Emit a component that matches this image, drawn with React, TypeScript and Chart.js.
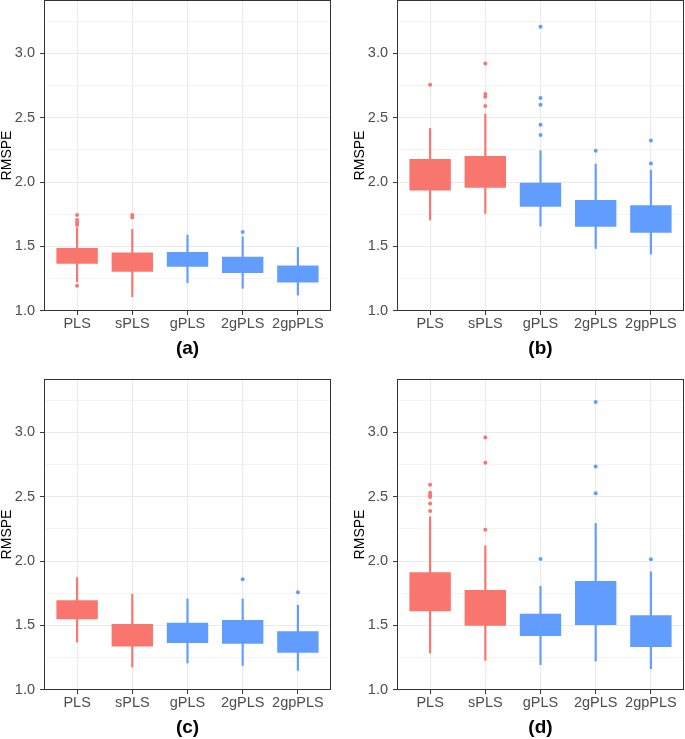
import React, { useEffect, useRef } from 'react';
import { Chart, registerables } from 'chart.js';

Chart.register(...registerables);

const categories = ['PLS', 'sPLS', 'gPLS', '2gPLS', '2gpPLS'];
const boxColors = ['#F8766D', '#F8766D', '#619CFF', '#619CFF', '#619CFF'];
const yTicks = [1.0, 1.25, 1.5, 1.75, 2.0, 2.25, 2.5, 2.75, 3.0, 3.25];

// (a)
const aQ1 = [1.365, 1.303, 1.342, 1.293, 1.22];
const aQ3 = [1.487, 1.453, 1.456, 1.42, 1.352];
const aLow = [1.225, 1.109, 1.218, 1.174, 1.122];
const aHigh = [1.645, 1.632, 1.588, 1.575, 1.492];
const aOutliers = [[1.744, 1.705, 1.684, 1.666, 1.194], [1.744, 1.725], [], [1.611], []];

// (b)
const bQ1 = [1.935, 1.956, 1.808, 1.653, 1.606];
const bQ3 = [2.179, 2.202, 1.995, 1.86, 1.819];
const bLow = [1.705, 1.756, 1.658, 1.484, 1.44];
const bHigh = [2.417, 2.528, 2.244, 2.14, 2.093];
const bOutliers = [[2.756], [2.922, 2.684, 2.663, 2.591], [3.207, 2.653, 2.601, 2.446, 2.365], [2.244], [2.324, 2.145]];

// (c)
const cQ1 = [1.547, 1.337, 1.363, 1.358, 1.288];
const cQ3 = [1.695, 1.511, 1.521, 1.542, 1.454];
const cLow = [1.371, 1.176, 1.208, 1.189, 1.15];
const cHigh = [1.872, 1.742, 1.706, 1.706, 1.656];
const cOutliers = [[], [], [], [1.859], [1.757]];

// (d)
const dQ1 = [1.61, 1.498, 1.418, 1.503, 1.332];
const dQ3 = [1.913, 1.776, 1.591, 1.846, 1.578];
const dLow = [1.285, 1.228, 1.195, 1.223, 1.163];
const dHigh = [2.344, 2.118, 1.804, 2.292, 1.916];
const dOutliers = [[2.593, 2.53, 2.512, 2.497, 2.447, 2.39], [2.961, 2.764, 2.243], [2.017], [3.236, 2.735, 2.528], [2.014]];

const FONT = "'Liberation Sans', Arial, sans-serif";

const isMajor = (v: number) => Math.abs(v * 2 - Math.round(v * 2)) < 1e-6;

// ggplot-style panel border around the plot area
const panelBorder = {
  id: 'panelBorder',
  afterDatasetsDraw(chart: any) {
    const { ctx, chartArea } = chart;
    const { left, top, right, bottom } = chartArea;
    ctx.save();
    ctx.strokeStyle = '#333333';
    ctx.lineWidth = 1;
    ctx.strokeRect(left + 0.5, top + 0.5, right - left - 1, bottom - top - 1);
    ctx.restore();
  },
};

function BoxPanel({ label, q1, q3, low, high, outliers, left, top }: any) {
  const chartRef = useRef<HTMLCanvasElement>(null);

  useEffect(() => {
    const points = outliers.flatMap((vals: number[], i: number) => vals.map((v) => ({ x: i + 1, y: v })));
    const pointColors = outliers.flatMap((vals: number[], i: number) => vals.map(() => boxColors[i]));

    const chart = new Chart(chartRef.current as HTMLCanvasElement, {
      type: 'bar',
      data: {
        datasets: [
          {
            type: 'scatter',
            data: points,
            pointRadius: 2,
            pointBackgroundColor: pointColors,
            pointBorderWidth: 0,
            order: 0,
          } as any,
          {
            data: q1.map((v: number, i: number) => ({ x: i + 1, y: [v, q3[i]] })),
            backgroundColor: boxColors,
            borderWidth: 0,
            barPercentage: 0.75,
            categoryPercentage: 1,
            grouped: false,
            order: 1,
          },
          {
            data: low.map((v: number, i: number) => ({ x: i + 1, y: [v, high[i]] })),
            backgroundColor: boxColors,
            borderWidth: 0,
            barThickness: 1.5,
            grouped: false,
            order: 2,
          },
        ],
      },
      options: {
        animation: false,
        responsive: true,
        maintainAspectRatio: false,
        layout: { autoPadding: false, padding: { top: 0, right: 1, bottom: 0, left: 0 } },
        plugins: {
          legend: { display: false },
          tooltip: { enabled: false },
        },
        scales: {
          x: {
            type: 'linear',
            min: 0.4,
            max: 5.6,
            offset: false,
            afterBuildTicks: (s: any) => {
              s.ticks = categories.map((_, i) => ({ value: i + 1 }));
            },
            afterFit: (s: any) => {
              s.height = 49;
              s.paddingLeft = 0;
              s.paddingRight = 0;
            },
            grid: {
              offset: false,
              color: '#EBEBEB',
              lineWidth: 1.1,
              tickLength: 4,
              tickColor: '#333333',
              tickWidth: 1,
            },
            border: { display: false },
            ticks: {
              autoSkip: false,
              maxRotation: 0,
              padding: 0,
              color: '#4D4D4D',
              font: { family: FONT, size: 14.5 },
              callback: (v: any) => categories[Math.round(v) - 1],
            },
            title: {
              display: true,
              text: label,
              color: '#000000',
              font: { family: FONT, size: 19, weight: 'bold' },
              padding: { top: 0, bottom: 0 },
            },
          },
          y: {
            type: 'linear',
            min: 0.998,
            max: 3.415,
            beginAtZero: false,
            afterBuildTicks: (s: any) => {
              s.ticks = yTicks.map((v) => ({ value: v }));
            },
            afterFit: (s: any) => {
              s.width = 44;
              s.paddingTop = 0;
              s.paddingBottom = 0;
            },
            grid: {
              color: '#EBEBEB',
              lineWidth: (ctx: any) => (isMajor(ctx.tick.value) ? 1.1 : 0.55),
              tickLength: 4,
              tickColor: (ctx: any) => (isMajor(ctx.tick.value) ? '#333333' : 'rgba(0,0,0,0)'),
              tickWidth: 1,
            },
            border: { display: false },
            ticks: {
              padding: 5,
              color: '#4D4D4D',
              font: { family: FONT, size: 14.5 },
              callback: (v: any) => (isMajor(v) ? Number(v).toFixed(1) : ''),
            },
            title: {
              display: true,
              text: 'RMSPE',
              color: '#000000',
              font: { family: FONT, size: 14, lineHeight: 1 },
              padding: 0,
            },
          },
        },
      } as any,
      plugins: [panelBorder],
    });

    return () => chart.destroy();
  }, []);

  return (
    <div style={{ position: 'absolute', left, top, width: 332, height: 360 }}>
      <canvas ref={chartRef}></canvas>
    </div>
  );
}

export default function App() {
  return (
    <div style={{ position: 'absolute', left: 0, top: 0, width: 685, height: 739, background: '#ffffff', overflow: 'hidden' }}>
      <BoxPanel label="(a)" q1={aQ1} q3={aQ3} low={aLow} high={aHigh} outliers={aOutliers} left={0} top={0} />
      <BoxPanel label="(b)" q1={bQ1} q3={bQ3} low={bLow} high={bHigh} outliers={bOutliers} left={353} top={0} />
      <BoxPanel label="(c)" q1={cQ1} q3={cQ3} low={cLow} high={cHigh} outliers={cOutliers} left={0} top={379} />
      <BoxPanel label="(d)" q1={dQ1} q3={dQ3} low={dLow} high={dHigh} outliers={dOutliers} left={353} top={379} />
    </div>
  );
}
